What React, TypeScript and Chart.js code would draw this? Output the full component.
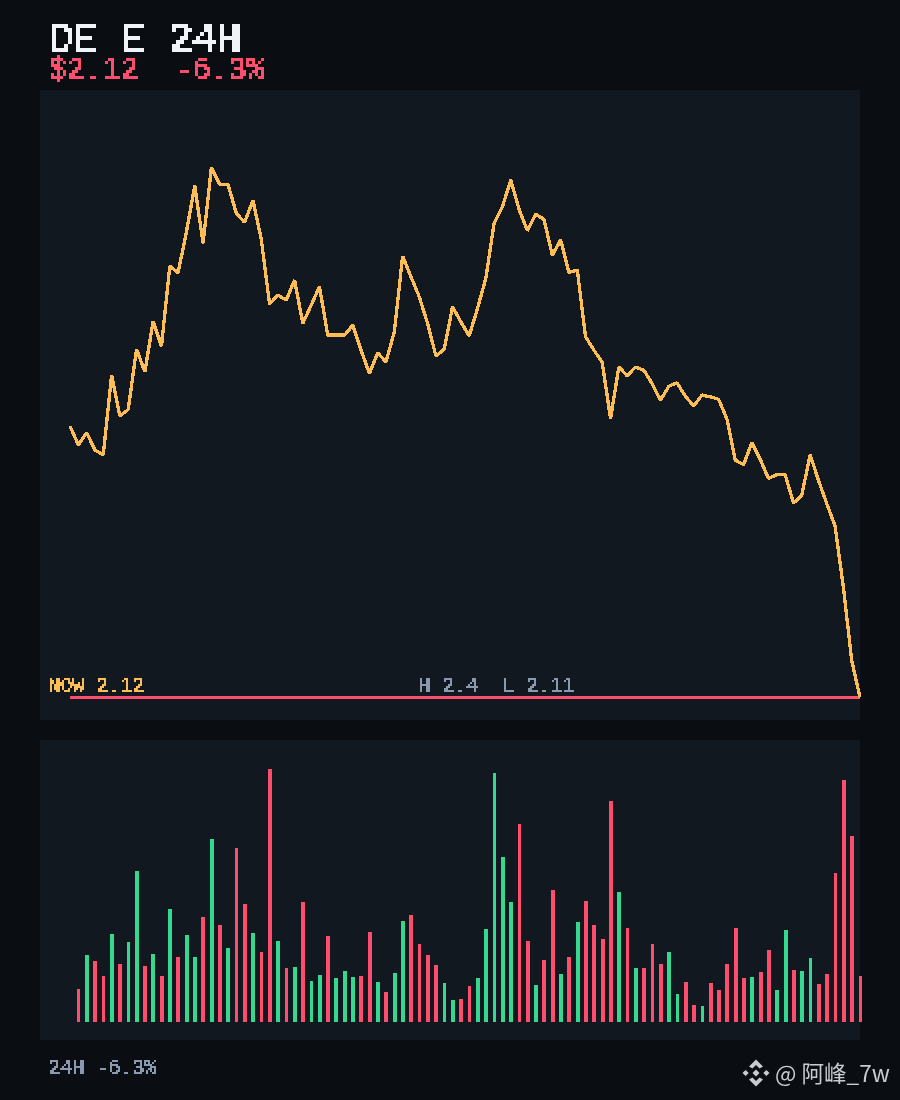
import React, { useEffect, useRef } from "react";
import { Chart, registerables } from "chart.js";

Chart.register(...registerables);

const prices = [
  2.2634, 2.2535, 2.26, 2.2507, 2.2482, 2.2903, 2.2688, 2.2722, 2.3041, 2.2921, 2.3189, 2.3057,
  2.348, 2.3445, 2.3661, 2.3905, 2.36, 2.4, 2.3912, 2.3912, 2.3759, 2.3711, 2.3829, 2.3621,
  2.3279, 2.3327, 2.33, 2.3406, 2.3177, 2.3274, 2.3371, 2.3115, 2.3115, 2.3115, 2.3168, 2.3036,
  2.2912, 2.3021, 2.2974, 2.3132, 2.3533, 2.3423, 2.3318, 2.3177, 2.3005, 2.3041, 2.3265, 2.3185,
  2.3111, 2.3256, 2.3415, 2.3706, 2.3794, 2.3935, 2.378, 2.3667, 2.3755, 2.3727, 2.3538, 2.3618,
  2.3447, 2.3459, 2.3106, 2.3036, 2.2971, 2.2674, 2.2947, 2.29, 2.2947, 2.293, 2.2859, 2.2771,
  2.2845, 2.2863, 2.2792, 2.2741, 2.2798, 2.2789, 2.2776, 2.2671, 2.2454, 2.2431, 2.2547, 2.2459,
  2.2357, 2.2378, 2.2378, 2.2228, 2.2269, 2.2484, 2.2348, 2.2225, 2.2106, 2.1783, 2.1396, 2.12,
];
const nowPrices = prices.map(() => 2.12);
const priceLabels = prices.map((_, i) => String(i));

const volumes = [
  33, 67, 61, 46, 88, 58, 80, 151, 56, 68, 46, 113, 65, 87, 65, 105, 183, 97, 74, 174, 118, 89, 70, 253,
  81, 54, 55, 120, 41, 47, 86, 44, 51, 45, 46, 90, 40, 30, 49, 101, 107, 78, 67, 57, 39, 22, 23, 36,
  44, 93, 249, 165, 120, 198, 81, 37, 62, 132, 48, 65, 100, 121, 97, 83, 221, 130, 94, 54, 54, 78, 58,
  70, 28, 40, 17, 16, 39, 32, 58, 94, 44, 45, 50, 72, 32, 92, 52, 51, 64, 38, 48, 149, 242, 186, 46,
];
const volumeSides = [
  "RGRRGRGGRGRGRGGRGRGRRGRRGRGRGGR", "GGGRRGRGGRRRRGGRRGGGGGRRGRRGRGR",
  "RRRGRGRRRGGRRGRRRRRGRRGGRGGRRRR",
].join("");
const volumeLabels = volumes.map((_, i) => String(i + 1));

const COLORS = {
  page: "#0a0d12",
  panel: "#111820",
  line: "#ffbe55",
  red: "#ff4d6d",
  green: "#34d98f",
  title: "#f0f4f8",
  muted: "#8a99b0",
};

function pixelText(ctx: CanvasRenderingContext2D, text: string, x: number, baseline: number, scale: number, color: string) {
  const w = Math.ceil(text.length * 6) + 4;
  const h = 12;
  const off = document.createElement("canvas");
  off.width = w;
  off.height = h;
  const c = off.getContext("2d", { willReadFrequently: true })! as any;
  c.font = '10.5px "Liberation Mono"';
  c.letterSpacing = "-0.3px";
  c.fontKerning = "none";
  c.textBaseline = "alphabetic";
  c.fillStyle = color;
  c.fillText(text, 0, 9);
  const img = c.getImageData(0, 0, w, h);
  const r = parseInt(color.slice(1, 3), 16), g = parseInt(color.slice(3, 5), 16), b = parseInt(color.slice(5, 7), 16);
  for (let i = 0; i < img.data.length; i += 4) {
    img.data[i] = r; img.data[i + 1] = g; img.data[i + 2] = b;
    img.data[i + 3] = img.data[i + 3] >= 105 ? 255 : 0;
  }
  c.putImageData(img, 0, 0);
  ctx.save();
  ctx.imageSmoothingEnabled = false;
  ctx.drawImage(off, x, baseline - 9 * scale, w * scale, h * scale);
  ctx.restore();
}

function harden(ctx: CanvasRenderingContext2D, width: number, height: number) {
  const img = ctx.getImageData(0, 0, width, height);
  const d = img.data;
  for (let i = 3; i < d.length; i += 4) d[i] = d[i] >= 110 ? 255 : 0;
  ctx.putImageData(img, 0, 0);
}

export default function App() {
  const priceRef = useRef<HTMLCanvasElement>(null);
  const volRef = useRef<HTMLCanvasElement>(null);

  useEffect(() => {
    const price = new Chart(priceRef.current!, {
      type: "line",
      data: {
        labels: priceLabels,
        datasets: [
          { data: prices, borderColor: COLORS.line, borderWidth: 3.2, pointRadius: 0, tension: 0, order: 1, borderJoinStyle: "bevel", clip: false as any },
          { data: nowPrices, borderColor: COLORS.red, borderWidth: 3, pointRadius: 0, tension: 0, order: 2, clip: false as any },
        ],
      },
      options: {
        responsive: false,
        devicePixelRatio: 1,
        animation: false,
        layout: { padding: { left: 70, right: 40, top: 167.7, bottom: 32.5 } },
        plugins: { legend: { display: false }, tooltip: { enabled: false } },
        scales: {
          x: { display: false, offset: false },
          y: { display: false, min: 2.12, max: 2.4 },
        },
      },
      plugins: [
        {
          id: "priceText",
          afterDraw(chart: any) {
            const ctx = chart.ctx as CanvasRenderingContext2D;
            harden(ctx, chart.width, chart.height);
            pixelText(ctx, "DE E 24H", 48, 52, 4, COLORS.title);
            pixelText(ctx, "$2.12  -6.3%", 48, 79, 3, COLORS.red);
            pixelText(ctx, "NOW 2.12", 48, 692, 2, COLORS.line);
            pixelText(ctx, "H 2.4  L 2.11", 418, 692, 2, COLORS.muted);
          },
        },
      ],
    });

    const vol = new Chart(volRef.current!, {
      type: "bar",
      data: {
        labels: volumeLabels,
        datasets: [
          {
            data: volumes,
            backgroundColor: volumes.map((_, i) => (volumeSides[i] === "G" ? COLORS.green : COLORS.red)),
            barThickness: 3,
            borderWidth: 0,
            clip: false as any,
          },
        ],
      },
      options: {
        responsive: false,
        devicePixelRatio: 1,
        animation: false,
        layout: { padding: { left: 78.5, right: 39.5, top: 39, bottom: 78 } },
        plugins: { legend: { display: false }, tooltip: { enabled: false } },
        scales: {
          x: { display: false, offset: false },
          y: { display: false, min: 0, max: 253 },
        },
      },
      plugins: [
        {
          id: "volText",
          afterDraw(chart: any) {
            const ctx = chart.ctx as CanvasRenderingContext2D;
            harden(ctx, chart.width, chart.height);
            pixelText(ctx, "24H -6.3%", 48, 344, 2, COLORS.muted);
          },
        },
      ],
    });

    return () => {
      price.destroy();
      vol.destroy();
    };
  }, []);

  return (
    <div style={{ position: "absolute", left: 0, top: 0, width: 900, height: 1100, background: COLORS.page, overflow: "hidden" }}>
      <div style={{ position: "absolute", left: 40, top: 90, width: 820, height: 630, background: COLORS.panel }} />
      <div style={{ position: "absolute", left: 40, top: 740, width: 820, height: 300, background: COLORS.panel }} />
      <canvas ref={priceRef} width={900} height={730} style={{ position: "absolute", left: 0, top: 0, width: 900, height: 730 }} />
      <canvas ref={volRef} width={900} height={370} style={{ position: "absolute", left: 0, top: 730, width: 900, height: 370 }} />
      <svg width="28" height="28" viewBox="0 0 28 28" style={{ position: "absolute", left: 742, top: 1059 }}>
        <g fill="#c9cccf">
          <path d="M14 0.5 L21 7.5 L17.6 9.6 L14 6 L10.4 9.6 L7 7.5 Z" />
          <path d="M14 27.5 L21 20.5 L17.6 18.4 L14 22 L10.4 18.4 L7 20.5 Z" />
          <path d="M0.5 14 L3.6 10.9 L6.7 14 L3.6 17.1 Z" />
          <path d="M27.5 14 L24.4 10.9 L21.3 14 L24.4 17.1 Z" />
          <path d="M14 10.5 L17.5 14 L14 17.5 L10.5 14 Z" />
        </g>
      </svg>
      <div style={{ position: "absolute", left: 775, top: 1058, fontFamily: '"Noto Sans CJK SC", "Noto Sans", sans-serif', fontSize: 22.6, lineHeight: "30px", color: "#c9cccf", whiteSpace: "nowrap" }}>
        @ 阿峰_7w
      </div>
    </div>
  );
}
